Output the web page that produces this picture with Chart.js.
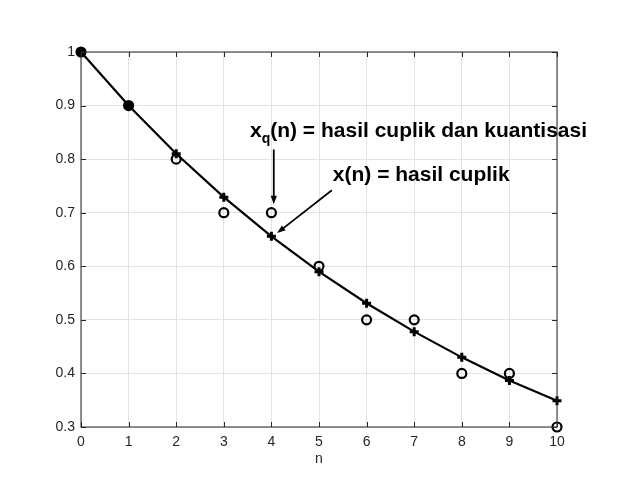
<!DOCTYPE html>
<html>
<head>
<meta charset="utf-8">
<script src="https://cdn.jsdelivr.net/npm/chart.js@4"></script>
<style>
  html, body { margin: 0; padding: 0; background: #fff; }
  #wrap { width: 638px; height: 478px; }
</style>
</head>
<body>
<div id="wrap"><canvas id="chart"></canvas></div>
<script>
// data
const nValues = [0, 1, 2, 3, 4, 5, 6, 7, 8, 9, 10];
const sampled = [1, 0.9, 0.81, 0.729, 0.656, 0.59, 0.531, 0.478, 0.43, 0.387, 0.349];
const quantized = [1, 0.9, 0.8, 0.7, 0.7, 0.6, 0.5, 0.5, 0.4, 0.4, 0.3];
const xTicks = [0, 1, 2, 3, 4, 5, 6, 7, 8, 9, 10];
const yTicks = [0.3, 0.4, 0.5, 0.6, 0.7, 0.8, 0.9, 1];

const fontFamily = "'Liberation Sans', Arial, sans-serif";

// box + inward ticks like matlab
const boxPlugin = {
    id: "box",
    afterDraw(chart) {
        const { ctx, chartArea: a, scales } = chart;
        ctx.save();
        ctx.strokeStyle = "#262626";
        ctx.lineWidth = 1;
        ctx.strokeRect(a.left, a.top, a.right - a.left, a.bottom - a.top);
        ctx.beginPath();
        xTicks.forEach(t => {
            const px = Math.round(scales.x.getPixelForValue(t)) + 0.5;
            ctx.moveTo(px, a.bottom); ctx.lineTo(px, a.bottom - 5);
            ctx.moveTo(px, a.top); ctx.lineTo(px, a.top + 5);
        });
        yTicks.forEach(t => {
            const py = Math.round(scales.y.getPixelForValue(t)) + 0.5;
            ctx.moveTo(a.left, py); ctx.lineTo(a.left + 5, py);
            ctx.moveTo(a.right, py); ctx.lineTo(a.right - 5, py);
        });
        ctx.stroke();
        ctx.restore();
    }
};

// text labels and arrows, placed in data units
const notes = [
    { x: 3.55, y: 0.852, main: "x", sub: "q", rest: "(n) = hasil cuplik dan kuantisasi" },
    { x: 5.29, y: 0.77, main: "x", sub: "", rest: "(n) = hasil cuplik" }
];
const arrows = [
    { from: [4.05, 0.818], to: [4.05, 0.716] },
    { from: [5.27, 0.742], to: [4.12, 0.662] }
];

const notePlugin = {
    id: "notes",
    afterDraw(chart) {
        const { ctx, scales } = chart;
        ctx.save();
        ctx.fillStyle = "#000";
        ctx.textBaseline = "middle";
        notes.forEach(n => {
            let px = scales.x.getPixelForValue(n.x);
            const py = scales.y.getPixelForValue(n.y);
            ctx.font = "bold 21px " + fontFamily;
            ctx.fillText(n.main, px, py);
            px += ctx.measureText(n.main).width;
            if (n.sub) {
                ctx.font = "bold 14px " + fontFamily;
                ctx.fillText(n.sub, px, py + 8);
                px += ctx.measureText(n.sub).width;
                ctx.font = "bold 21px " + fontFamily;
            }
            ctx.fillText(n.rest, px, py);
        });
        ctx.strokeStyle = "#000";
        ctx.lineWidth = 1.8;
        arrows.forEach(ar => {
            const x1 = scales.x.getPixelForValue(ar.from[0]);
            const y1 = scales.y.getPixelForValue(ar.from[1]);
            const x2 = scales.x.getPixelForValue(ar.to[0]);
            const y2 = scales.y.getPixelForValue(ar.to[1]);
            const ang = Math.atan2(y2 - y1, x2 - x1);
            ctx.beginPath();
            ctx.moveTo(x1, y1);
            ctx.lineTo(x2 - 6 * Math.cos(ang), y2 - 6 * Math.sin(ang));
            ctx.stroke();
            ctx.beginPath();
            ctx.moveTo(x2, y2);
            ctx.lineTo(x2 - 9 * Math.cos(ang - 0.35), y2 - 9 * Math.sin(ang - 0.35));
            ctx.lineTo(x2 - 9 * Math.cos(ang + 0.35), y2 - 9 * Math.sin(ang + 0.35));
            ctx.closePath();
            ctx.fill();
        });
        ctx.restore();
    }
};

new Chart(document.getElementById("chart"), {
    type: "scatter",
    data: {
        datasets: [
            {
                label: "x(n)",
                data: nValues.map((n, i) => ({ x: n, y: sampled[i] })),
                showLine: true,
                borderColor: "#000",
                borderWidth: 2.2,
                tension: 0,
                pointStyle: "cross",
                pointRadius: 4.5,
                pointBorderWidth: 3,
                pointBorderColor: "#000",
                clip: false
            },
            {
                label: "xq(n)",
                data: nValues.map((n, i) => ({ x: n, y: quantized[i] })),
                showLine: false,
                pointStyle: "circle",
                pointRadius: 4.5,
                pointBorderWidth: 2.2,
                pointBorderColor: "#000",
                pointBackgroundColor: quantized.map((q, i) => Math.abs(q - sampled[i]) < 0.001 ? "#000" : "rgba(0,0,0,0)"),
                clip: false
            }
        ]
    },
    options: {
        responsive: true,
        maintainAspectRatio: false,
        animation: false,
        layout: { padding: { top: 52, right: 81, bottom: 10, left: 0 } },
        plugins: {
            legend: { display: false },
            tooltip: { enabled: false }
        },
        scales: {
            x: {
                type: "linear",
                min: 0,
                max: 10,
                afterBuildTicks: s => { s.ticks = xTicks.map(v => ({ value: v })); },
                afterFit: s => { s.height = 41; },
                grid: { color: "#e3e3e3", tickLength: 0, drawTicks: false },
                border: { display: false },
                ticks: { color: "#262626", padding: 7, font: { family: fontFamily, size: 14 } },
                title: { display: true, text: "n", color: "#262626", padding: { top: 8, bottom: 0 }, font: { family: fontFamily, size: 14 } }
            },
            y: {
                type: "linear",
                min: 0.3,
                max: 1,
                afterBuildTicks: s => { s.ticks = yTicks.map(v => ({ value: v })); },
                afterFit: s => { s.width = 81; },
                grid: { color: "#e3e3e3", tickLength: 0, drawTicks: false },
                border: { display: false },
                ticks: {
                    color: "#262626",
                    padding: 6,
                    font: { family: fontFamily, size: 14 },
                    callback: v => String(Math.round(v * 10) / 10)
                }
            }
        }
    },
    plugins: [boxPlugin, notePlugin]
});
</script>
</body>
</html>
